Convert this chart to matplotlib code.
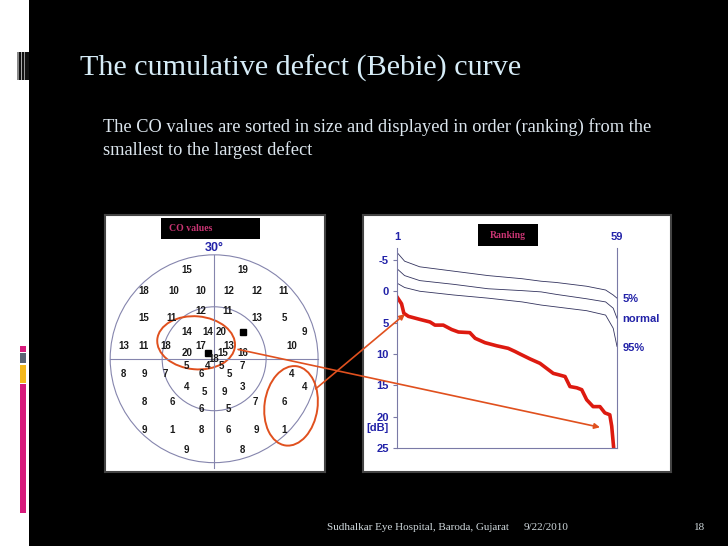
import numpy as np
import matplotlib
matplotlib.use('Agg')
import matplotlib.pyplot as plt
from matplotlib.patches import Rectangle, Circle, Ellipse, ConnectionPatch

plt.rcParams['axes.unicode_minus'] = False

# ---- Datos: valores CO en el campo visual (grados) ----
co_values = [15, 19,
             18, 10, 10, 12, 12, 11,
             12, 11,
             15, 11, 13, 5,
             14, 14, 20, 9,
             13, 11, 18, 17, 13, 10,
             20, 15, 16,
             18,
             5, 4, 5, 7,
             8, 9, 7, 6, 5, 4,
             4, 3, 4,
             5, 9,
             8, 6, 7, 6,
             6, 5,
             9, 1, 8, 6, 9, 1,
             9, 8]
co_x = [-7.9, 8.2,
        -20.2, -11.7, -3.8, 4.1, 12.3, 20.0,
        -3.8, 3.8,
        -20.2, -12.2, 12.3, 20.2,
        -7.9, -1.9, 2.1, 26.1,
        -26.0, -20.4, -13.9, -3.8, 4.3, 22.3,
        -7.9, 2.6, 8.2,
        0.0,
        -7.9, -1.9, 2.1, 8.2,
        -26.2, -20.0, -14.1, -3.8, 4.3, 22.3,
        -7.9, 8.2, 26.1,
        -2.7, 3.1,
        -20.2, -12.0, 12.0, 20.2,
        -3.8, 4.1,
        -20.2, -12.0, -3.8, 4.1, 12.3, 20.2,
        -7.9, 8.2]
co_y = [25.6, 25.6,
        19.7, 19.7, 19.7, 19.7, 19.7, 19.7,
        13.9, 13.9,
        11.7, 11.7, 11.7, 11.7,
        7.7, 7.7, 7.7, 7.7,
        3.6, 3.6, 3.6, 3.8, 3.8, 3.6,
        1.6, 1.7, 1.6,
        -0.2,
        -2.2, -2.2, -2.2, -2.2,
        -4.3, -4.3, -4.3, -4.3, -4.3, -4.3,
        -8.2, -8.2, -8.2,
        -9.6, -9.6,
        -12.5, -12.5, -12.5, -12.5,
        -14.4, -14.4,
        -20.5, -20.5, -20.5, -20.5, -20.5, -20.5,
        -26.4, -26.4]
spot_x = [8.2, -1.9]
spot_y = [7.7, 1.6]

# ---- Datos: curva de Bebie ----
defect_rank = [1, 2.2, 2.8, 4.0, 7.1, 9.7, 11.0, 13.2, 15.4, 17.2, 20.2, 21.6,
               24.2, 27.3, 30.3, 32.1, 33.4, 36.1, 38.7, 42.2, 43.5, 45.3,
               46.6, 48.4, 49.7, 51.0, 52.7, 54.5, 55.8, 57.1, 57.6, 58.2]
defect_db = [0.9, 2.0, 3.5, 4.0, 4.5, 4.9, 5.4, 5.4, 6.1, 6.5, 6.6, 7.5,
             8.2, 8.7, 9.1, 9.6, 10.0, 10.8, 11.5, 13.1, 13.3, 13.6,
             15.2, 15.4, 15.7, 17.3, 18.4, 18.4, 19.4, 19.7, 21.5, 25.5]
norm_rank = [1, 3, 7, 16, 25, 34, 39, 43, 51, 56, 58, 59]
p5_db = [-6.2, -4.8, -3.9, -3.2, -2.5, -2.0, -1.6, -1.4, -0.8, -0.2, 0.6, 1.1]
normal_db = [-3.6, -2.5, -1.7, -1.1, -0.4, -0.1, 0.1, 0.5, 1.2, 1.7, 2.7, 4.3]
p95_db = [-1.3, -0.6, 0.0, 0.6, 1.1, 1.7, 2.2, 2.5, 3.1, 3.8, 5.9, 8.8]

W, H = 728, 546
def box(x0, y0, x1, y1):
    return [x0 / W, 1 - y1 / H, (x1 - x0) / W, (y1 - y0) / H]

blue = '#2222a8'
arrow_col = '#e0501e'
serif = ['Liberation Serif', 'DejaVu Serif']
sans = ['Liberation Sans', 'DejaVu Sans']

fig = plt.figure(figsize=(7.28, 5.46), dpi=100, facecolor='black')

# ==================== Fondo de la diapositiva ====================
deco = fig.add_axes([0, 0, 1, 1])
deco.set_xlim(0, W)
deco.set_ylim(H, 0)
deco.axis('off')
deco.add_patch(Rectangle((0, 0), 29, H, color='white', lw=0))
for x0, wdt, c in [(17, 1.5, '#888888'), (18.5, 2.5, '#111111'), (21, 1, '#aaaaaa'),
                   (22, 2, '#111111'), (24, 1, '#999999'), (25, 4, '#111111')]:
    deco.add_patch(Rectangle((x0, 52), wdt, 28, color=c, lw=0))
for y0, hgt, c in [(346, 6, '#d81b7c'), (353, 10, '#5a6474'),
                   (365, 18, '#f4b81c'), (384, 129, '#d81b7c')]:
    deco.add_patch(Rectangle((20, y0), 6, hgt, color=c, lw=0))

deco.text(80, 76, 'The cumulative defect (Bebie) curve', fontsize=21.7,
          family=serif, color='#d6ecf7', va='baseline')
deco.text(103, 132, 'The CO values are sorted in size and displayed in order (ranking) from the',
          fontsize=13.2, family=serif, color='#dce6ee', va='baseline')
deco.text(103, 155, 'smallest to the largest defect',
          fontsize=13.2, family=serif, color='#dce6ee', va='baseline')
deco.text(327, 530, 'Sudhalkar Eye Hospital, Baroda, Gujarat', fontsize=8,
          family=serif, color='#cfd8dc', va='baseline')
deco.text(524, 530, '9/22/2010', fontsize=8, family=serif, color='#cfd8dc', va='baseline')
deco.text(694, 530, '18', fontsize=8, family=serif, color='#cfd8dc', va='baseline')

# ==================== Panel izquierdo: valores CO ====================
axL = fig.add_axes(box(105, 215, 325, 472))
axL.set_facecolor('white')
axL.set_xlim(-31.5, 32.0)
axL.set_ylim(-32.7, 41.5)
axL.set_xticks([])
axL.set_yticks([])
for s in axL.spines.values():
    s.set_color('#444444')
    s.set_linewidth(1.5)

ring = '#8585ad'
axL.add_patch(Circle((0, 0), 30, fill=False, ec=ring, lw=0.8))
axL.add_patch(Circle((0, 0), 15, fill=False, ec=ring, lw=0.8))
axL.plot([0, 0], [-31.5, 30], color=ring, lw=0.8)
axL.plot([-30, 30], [0, 0], color=ring, lw=0.8)

for v, x, y in zip(co_values, co_x, co_y):
    axL.text(x, y, str(v), ha='center', va='center', fontsize=7,
             fontweight='bold', family=sans, color='#1a1a1a')
axL.plot(spot_x, spot_y, 's', color='black', ms=4.5)

axL.text(0, 32.0, '30°', ha='center', va='center', fontsize=9,
         fontweight='bold', family=sans, color=blue)
axL.add_patch(Rectangle((-15.3, 34.6), 28.6, 6.1, color='black', lw=0))
axL.text(-13.0, 37.6, 'CO values', ha='left', va='center', fontsize=7,
         fontweight='bold', family=serif, color='#c83472')

axL.add_patch(Ellipse((-5.2, 4.6), 22.5, 15.3, angle=-5, fill=False,
                      ec=arrow_col, lw=1.4))
axL.add_patch(Ellipse((22.2, -13.6), 15.3, 23.1, angle=-8, fill=False,
                      ec=arrow_col, lw=1.4))

# ==================== Panel derecho: curva de Bebie ====================
axBox = fig.add_axes(box(363, 215, 671, 472))
axBox.set_facecolor('white')
axBox.set_xticks([])
axBox.set_yticks([])
for s in axBox.spines.values():
    s.set_color('#444444')
    s.set_linewidth(1.5)

axR = fig.add_axes(box(397, 248, 617, 448))
axR.patch.set_alpha(0)
axR.set_xlim(1, 59)
axR.set_ylim(25, -6.9)
axR.spines['top'].set_visible(False)
for s in ['left', 'right', 'bottom']:
    axR.spines[s].set_color('#7a7aa6')
    axR.spines[s].set_linewidth(0.8)

axR.plot(norm_rank, p5_db, color='#33335e', lw=0.6)
axR.plot(norm_rank, normal_db, color='#33335e', lw=0.6)
axR.plot(norm_rank, p95_db, color='#33335e', lw=0.6)
axR.plot(defect_rank, defect_db, color='#dd1a10', lw=2.6, solid_joinstyle='round')

axR.set_yticks([-5, 0, 5, 10, 15, 20, 25])
axR.tick_params(axis='y', direction='out', length=3, width=0.8, color='#7a7aa6',
                labelsize=8, labelcolor=blue, pad=3)
for lbl in axR.get_yticklabels():
    lbl.set_fontweight('bold')
    lbl.set_family(sans)
axR.xaxis.tick_top()
axR.set_xticks([1, 59])
axR.tick_params(axis='x', length=0, labelsize=8, labelcolor=blue, pad=4)
for lbl in axR.get_xticklabels():
    lbl.set_fontweight('bold')
    lbl.set_family(sans)

axR.text(-0.09, 21.8, '[dB]', transform=axR.get_yaxis_transform(), ha='center',
         va='center', fontsize=8, fontweight='bold', family=sans, color=blue)
for lab, yv in [('5%', p5_db[-1]), ('normal', normal_db[-1]), ('95%', p95_db[-1])]:
    axR.text(1.025, yv + 0.2, lab, transform=axR.get_yaxis_transform(), ha='left',
             va='center', fontsize=8, fontweight='bold', family=sans, color=blue)

axBox.add_patch(Rectangle((0.372, 0.88), 0.195, 0.085, transform=axBox.transAxes,
                          color='black', lw=0))
axBox.text(0.47, 0.922, 'Ranking', transform=axBox.transAxes, ha='center',
           va='center', fontsize=7, fontweight='bold', family=serif, color='#c83472')

# ==================== Flechas ====================
for xyA, xyB in [((29.3, -8.7), (3.1, 3.65)), ((6.9, 2.7), (54.5, 21.7))]:
    con = ConnectionPatch(xyA=xyA, coordsA=axL.transData, xyB=xyB,
                          coordsB=axR.transData, arrowstyle='-|>', color=arrow_col,
                          lw=1.2, mutation_scale=8, shrinkA=0, shrinkB=0)
    con.set_zorder(10)
    fig.add_artist(con)

plt.savefig('out.png', dpi=100, facecolor='black')
